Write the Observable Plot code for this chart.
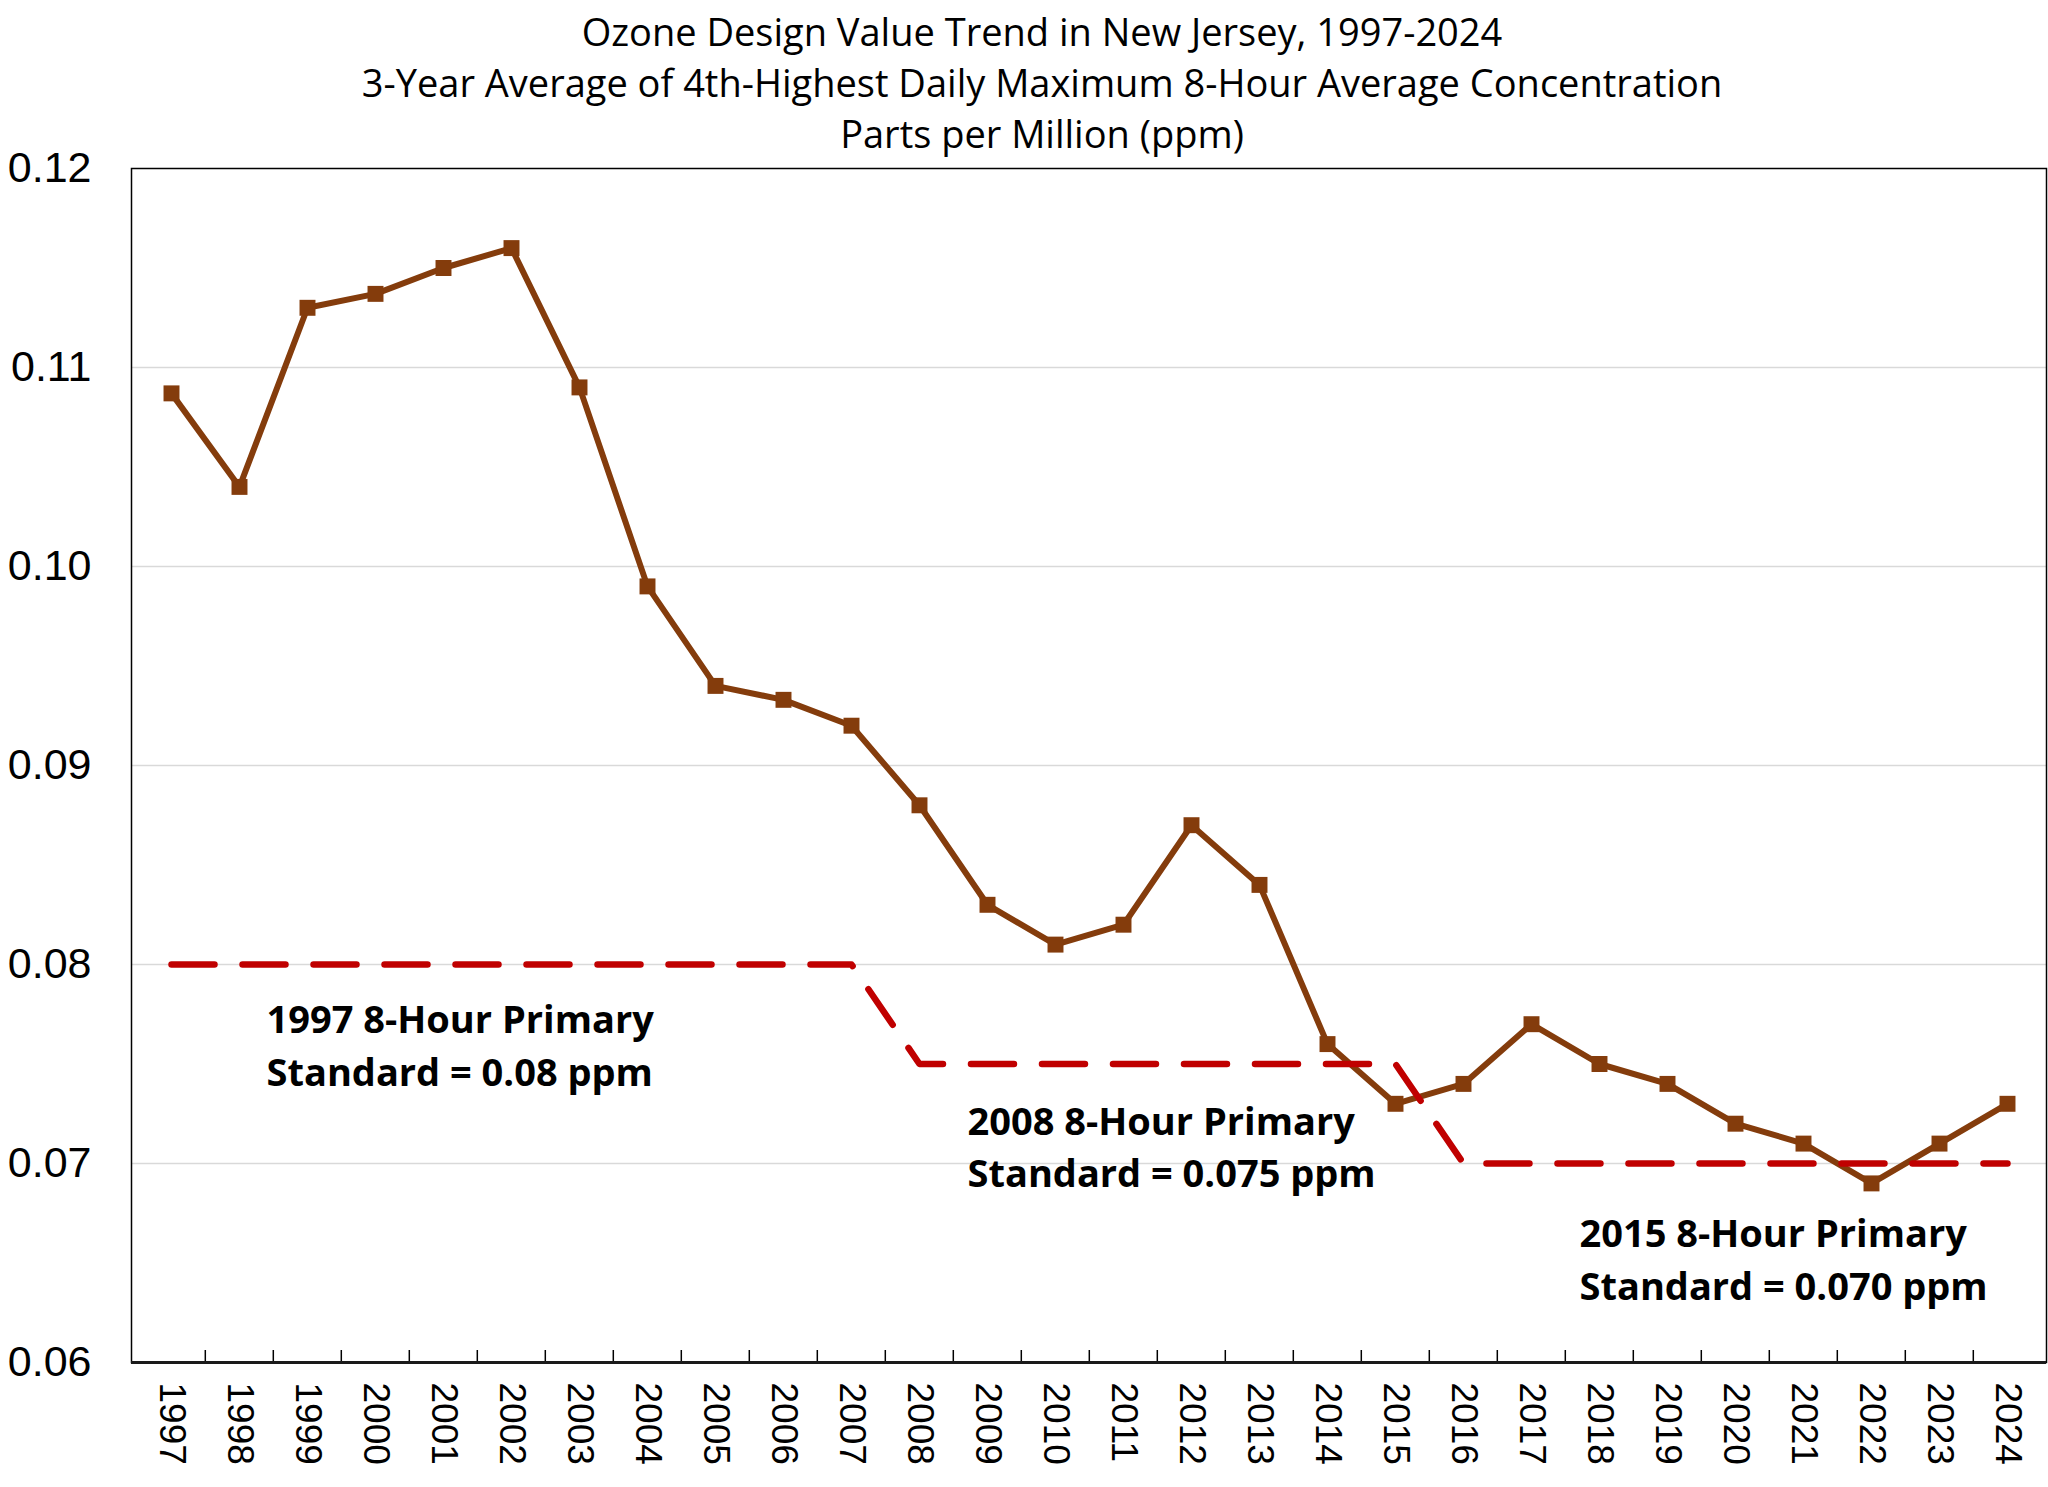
<!DOCTYPE html>
<html>
<head>
<meta charset="utf-8">
<script src="https://cdn.jsdelivr.net/npm/d3@7"></script>
<script src="https://cdn.jsdelivr.net/npm/@observablehq/plot@0.6"></script>
<style>
  html, body { margin: 0; padding: 0; background: #fff; }
  #title {
    width: 2048px; box-sizing: border-box; padding: 6px 0 0 36px;
    font-family: "Open Sans", sans-serif; font-size: 38px; line-height: 51px;
    color: #000; text-align: center; height: 130px; overflow: visible; position: relative; z-index: 1;
  }
  #title div { white-space: nowrap; }
  #chart svg { display: block; overflow: visible; }
</style>
</head>
<body>
<div id="title">
  <div>Ozone Design Value Trend in New Jersey, 1997-2024</div>
  <div>3-Year Average of 4th-Highest Daily Maximum 8-Hour Average Concentration</div>
  <div>Parts per Million (ppm)</div>
</div>
<div id="chart"></div>
<script>
// ---- data ----
const years = [1997, 1998, 1999, 2000, 2001, 2002, 2003, 2004, 2005, 2006, 2007, 2008, 2009, 2010,
               2011, 2012, 2013, 2014, 2015, 2016, 2017, 2018, 2019, 2020, 2021, 2022, 2023, 2024];
const designValues = [0.1087, 0.104, 0.113, 0.1137, 0.115, 0.116, 0.109, 0.099, 0.094, 0.0933, 0.092, 0.088, 0.083, 0.081,
                      0.082, 0.087, 0.084, 0.076, 0.073, 0.074, 0.077, 0.075, 0.074, 0.072, 0.071, 0.069, 0.071, 0.073];
const standardValues = [0.08, 0.08, 0.08, 0.08, 0.08, 0.08, 0.08, 0.08, 0.08, 0.08, 0.08, 0.075, 0.075, 0.075,
                        0.075, 0.075, 0.075, 0.075, 0.075, 0.07, 0.07, 0.07, 0.07, 0.07, 0.07, 0.07, 0.07, 0.07];
const yTicks = [0.06, 0.07, 0.08, 0.09, 0.10, 0.11, 0.12];
const annotationLabels = ["1997 8-Hour Primary\nStandard = 0.08 ppm",
                          "2008 8-Hour Primary\nStandard = 0.075 ppm",
                          "2015 8-Hour Primary\nStandard = 0.070 ppm"];
const annotationYears = [1999, 2009, 2018];
const annotationStandards = [0.08, 0.075, 0.070];

// ---- build tables ----
const series = years.map((year, i) => ({year, value: designValues[i]}));
const standard = years.map((year, i) => ({year, value: standardValues[i]}));

const W = 2048, H = 1357;
const mTop = 38, mBottom = 125, mLeft = 131, mRight = 2;
const plotH = H - mTop - mBottom;
const bw = (W - mLeft - mRight) / years.length;

const brown = "#843C0C", red = "#C00000";
const labelFont = "Liberation Sans, Arial, sans-serif";
const annFont = "Open Sans, sans-serif";

function annotation(i, dx, dy) {
  return Plot.text([annotationLabels[i]], {
    x: () => annotationYears[i], y: () => annotationStandards[i], text: d => d,
    textAnchor: "start", lineAnchor: "top", lineHeight: 1.37,
    fontSize: 38, fontWeight: "bold", fontFamily: annFont, fill: "#000",
    dx, dy
  });
}

const chart = Plot.plot({
  width: W, height: H,
  marginTop: mTop, marginBottom: mBottom, marginLeft: mLeft, marginRight: mRight,
  x: {type: "band", domain: years, padding: 0},
  y: {domain: [0.06, 0.12]},
  style: {background: "#fff", overflow: "visible"},
  marks: [
    Plot.gridY(yTicks.slice(1, -1), {stroke: "#d9d9d9", strokeOpacity: 1, strokeWidth: 1.5}),
    Plot.ruleX(years.slice(1), {x: d => d, dx: -bw / 2, insetTop: plotH - 12, stroke: "#000", strokeWidth: 1.5}),
    Plot.frame({stroke: "#000", strokeWidth: 1.5}),
    Plot.ruleY([0.06], {stroke: "#1a1a1a", strokeWidth: 3}),
    Plot.axisY(yTicks, {tickSize: 0, tickPadding: 40, tickFormat: d3.format(".2f"),
      fontSize: 43, fontFamily: labelFont, fill: "#000", label: null}),
    Plot.axisX(years, {tickSize: 0, tickPadding: 20, tickRotate: 90, textAnchor: "start", lineAnchor: "middle",
      tickFormat: d => String(d), fontSize: 37, fontFamily: labelFont, fill: "#000", label: null}),
    Plot.line(series, {x: "year", y: "value", stroke: brown, strokeWidth: 6, strokeLinejoin: "round"}),
    Plot.dot(series, {x: "year", y: "value", symbol: "square", r: 9, fill: brown, stroke: null}),
    Plot.line(standard, {x: "year", y: "value", stroke: red, strokeWidth: 6.5,
      strokeDasharray: "43,28", strokeLinecap: "round", strokeLinejoin: "round"}),
    annotation(0, -41, 32),
    annotation(1, -20, 34),
    annotation(2, -20, 47)
  ]
});
document.getElementById("chart").appendChild(chart);
</script>
</body>
</html>
